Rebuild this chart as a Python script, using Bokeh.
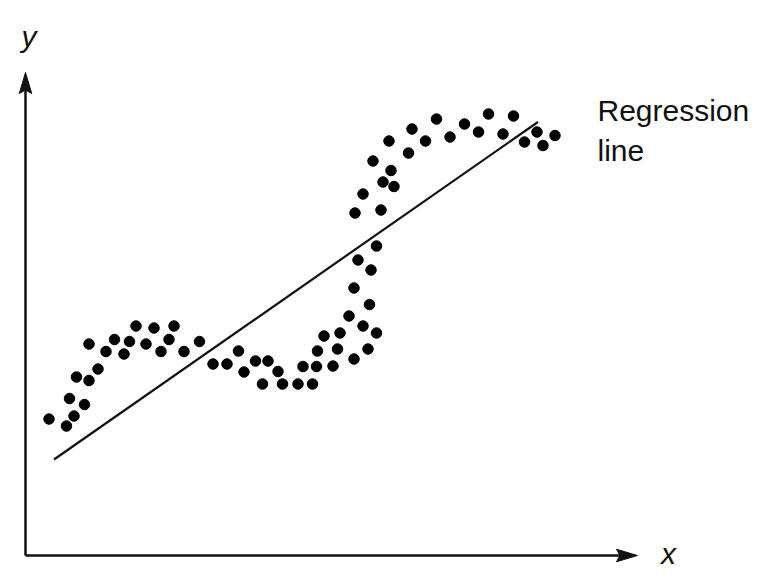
from bokeh.plotting import figure
from bokeh.models import Range1d
from bokeh.core.properties import value
from bokeh.embed import file_html
from bokeh.resources import INLINE

# Scatter data (arbitrary units, origin at the axes corner)
pts_x = [4.7, 8.2, 9.7, 11.8, 8.8, 12.7, 10.2, 14.5, 12.7, 16.1, 17.8, 19.7, 20.8, 22.1,
         24.1, 25.7, 27.1, 28.7, 29.7, 31.7, 34.8, 37.5, 40.3,
         42.6, 43.7, 46.0, 48.5, 50.5, 47.4, 51.4, 54.5, 57.4, 55.5, 58.2, 61.5, 58.4,
         62.4, 59.7, 62.9, 65.7, 68.5, 67.5, 70.2, 64.7, 68.8, 65.7, 69.1, 66.5, 70.2,
         65.9, 71.1, 67.5, 73.7, 71.5, 73.1, 69.5, 76.6, 72.7, 80.0, 77.3, 82.2, 84.9,
         87.8, 90.6, 92.6, 95.5, 97.6, 99.8, 102.3, 103.5, 105.9]
pts_y = [27.3, 25.9, 27.9, 30.2, 31.4, 35.0, 35.7, 37.3, 42.3, 40.8, 43.2, 40.3, 42.8, 45.9,
         42.3, 45.5, 40.8, 43.2, 45.9, 40.8, 42.8, 38.3, 38.3,
         40.9, 36.7, 38.9, 38.9, 36.8, 34.3, 34.3, 34.3, 34.3, 37.8, 37.8, 37.9, 40.9,
         41.3, 43.9, 44.5, 39.3, 41.3, 45.9, 44.5, 47.9, 50.2, 53.5, 57.1, 59.1, 61.9,
         68.5, 69.1, 72.3, 73.8, 74.7, 77.0, 78.9, 80.5, 82.9, 82.9, 85.3, 87.3, 83.7,
         86.3, 84.7, 88.3, 84.3, 87.9, 82.7, 84.7, 82.0, 84.0]

# Regression line end points
line_x = [5.7, 102.5]
line_y = [19.2, 86.7]

# Axis extents
x_axis_end = 122.4
y_axis_end = 96.6

# Labels
label_text = ["Regression", "line"]
label_x = [114.4, 114.4]
label_y = [89.0, 81.0]

p = figure(width=766, height=575, x_range=Range1d(-5, 148.2), y_range=Range1d(-4, 111),
           output_backend="svg", toolbar_location=None, min_border=0,
           x_axis_type=None, y_axis_type=None)
p.grid.visible = False
p.outline_line_color = None
p.background_fill_color = "white"

# axes
p.line([0, x_axis_end - 3], [0, 0], line_color="#111111", line_width=2.5)
p.line([0, 0], [0, y_axis_end - 3], line_color="#111111", line_width=2.5)

# arrowheads (length ~4 units, half width ~1.2 units, small notch)
L, W, N = 4.2, 1.25, 0.7
p.patches(
    xs=[[x_axis_end, x_axis_end - L, x_axis_end - L + N, x_axis_end - L],
        [0, -W, 0, W]],
    ys=[[0, W, 0, -W],
        [y_axis_end, y_axis_end - L, y_axis_end - L + N, y_axis_end - L]],
    fill_color="#111111", line_color="#111111", line_width=1)

# regression line
p.line(line_x, line_y, line_color="#111111", line_width=2.2)

# dots
p.scatter(pts_x, pts_y, size=10.5, fill_color="black", line_color="black")

# texts
p.text(x=label_x, y=label_y, text=label_text, text_font=value("Liberation Sans"),
       text_font_size="30px", text_baseline="alphabetic", text_align="left",
       text_color="#111111")
p.text(x=[0.7], y=[103.8], text=["y"], text_font=value("Liberation Sans"),
       text_font_size="30px", text_font_style="italic", text_baseline="alphabetic",
       text_align="center", text_color="#111111")
p.text(x=[128.6], y=[0.4], text=["x"], text_font=value("Liberation Sans"),
       text_font_size="30px", text_font_style="italic", text_baseline="alphabetic",
       text_align="center", text_color="#111111")

open("out.html", "w").write(file_html(p, INLINE))
